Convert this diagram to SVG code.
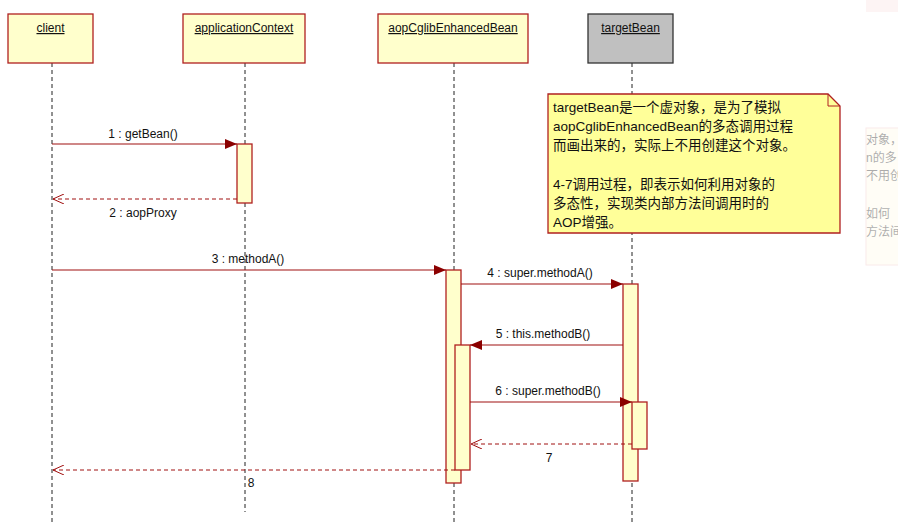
<svg xmlns="http://www.w3.org/2000/svg" width="898" height="531" viewBox="0 0 898 531">
<defs>
<style>
text{font-family:"Liberation Sans","Noto Sans CJK SC",sans-serif;font-size:12px;fill:#111}
.note text{font-size:13.5px}
.box{fill:#ffffcc;stroke:#b02020;stroke-width:1.3}
.life{stroke:#222;stroke-width:1;stroke-dasharray:4 3}
.act{fill:#ffffcc;stroke:#b02020;stroke-width:1.3}
.msg{stroke:#a01010;stroke-width:1.2;fill:none}
.ret{stroke:#a01010;stroke-width:1;fill:none;stroke-dasharray:4 3}
.u{text-decoration:underline}
</style>
<marker id="fill" markerWidth="12" markerHeight="10" refX="12" refY="5" orient="auto" markerUnits="userSpaceOnUse"><path d="M0,0 L12,5 L0,10 Z" fill="#8b0000"/></marker>
<marker id="open" markerWidth="12" markerHeight="10" refX="11" refY="5" orient="auto" markerUnits="userSpaceOnUse"><path d="M0,0 L11,5 L0,10" fill="none" stroke="#a01010"/></marker>
</defs>
<rect width="898" height="531" fill="#fff"/>
<g opacity="0.35">
<rect x="866" y="0" width="40" height="12" fill="#fbe0e0"/>
<rect x="866" y="128" width="40" height="137" fill="#fffbe6" stroke="#f3c6c6"/>
<text x="866" y="144" fill="#888">对象，</text>
<text x="866" y="162" fill="#888">n的多</text>
<text x="866" y="180" fill="#888">不用创</text>
<text x="866" y="218" fill="#888">如何</text>
<text x="866" y="236" fill="#888">方法间</text>
</g>
<g id="lifelines">
<line class="life" x1="52" y1="63" x2="52" y2="522"/>
<line class="life" x1="245" y1="63" x2="245" y2="512"/>
<line class="life" x1="454" y1="63" x2="454" y2="522"/>
<line class="life" x1="632" y1="63" x2="632" y2="522"/>
</g>
<g id="client"><rect class="box" x="8" y="14" width="85" height="49"/><text class="u" x="50.5" y="32" text-anchor="middle">client</text></g>
<g id="applicationContext"><rect class="box" x="183" y="14" width="122" height="49"/><text class="u" x="244" y="32" text-anchor="middle">applicationContext</text></g>
<g id="aopCglibEnhancedBean"><rect class="box" x="378" y="14" width="150" height="49"/><text class="u" x="453" y="32" text-anchor="middle">aopCglibEnhancedBean</text></g>
<g id="targetBean"><rect x="588" y="14" width="85" height="49" fill="#c0c0c0" stroke="#333" stroke-width="1.3"/><text class="u" x="630.5" y="32" text-anchor="middle">targetBean</text></g>
<g id="note" class="note">
<path d="M548,94 H828 L840,106 V233 H548 Z" fill="#ffff99" stroke="#b02020" stroke-width="1.3"/>
<path d="M828,94 V106 H840" fill="none" stroke="#b02020"/>
<text x="553" y="112">targetBean是一个虚对象，是为了模拟</text>
<text x="553" y="131">aopCglibEnhancedBean的多态调用过程</text>
<text x="553" y="150">而画出来的，实际上不用创建这个对象。</text>
<text x="553" y="189">4-7调用过程，即表示如何利用对象的</text>
<text x="553" y="208">多态性，实现类内部方法间调用时的</text>
<text x="553" y="227">AOP增强。</text>
</g>
<g id="activations">
<rect class="act" x="237" y="144" width="15" height="59"/>
<rect class="act" x="446" y="270" width="15" height="213"/>
<rect class="act" x="623" y="284" width="15" height="197"/>
<rect class="act" x="455" y="345" width="15" height="125"/>
<rect class="act" x="632" y="402" width="15" height="47"/>
</g>
<g id="connectors">
<line class="msg" x1="52" y1="144" x2="237" y2="144" marker-end="url(#fill)"/>
<line class="ret" x1="237" y1="199" x2="53" y2="199" marker-end="url(#open)"/>
<line class="msg" x1="52" y1="270" x2="446" y2="270" marker-end="url(#fill)"/>
<line class="msg" x1="461" y1="284" x2="623" y2="284" marker-end="url(#fill)"/>
<line class="msg" x1="623" y1="345" x2="470" y2="345" marker-end="url(#fill)"/>
<line class="msg" x1="470" y1="402" x2="632" y2="402" marker-end="url(#fill)"/>
<line class="ret" x1="632" y1="444" x2="471" y2="444" marker-end="url(#open)"/>
<line class="ret" x1="455" y1="470" x2="53" y2="470" marker-end="url(#open)"/>
</g>
<g id="labels">
<text x="143" y="138" text-anchor="middle">1 : getBean()</text>
<text x="143" y="217" text-anchor="middle">2 : aopProxy</text>
<text x="248" y="263" text-anchor="middle">3 : methodA()</text>
<text x="540" y="277" text-anchor="middle">4 : super.methodA()</text>
<text x="543" y="338" text-anchor="middle">5 : this.methodB()</text>
<text x="548" y="395" text-anchor="middle">6 : super.methodB()</text>
<text x="549" y="462" text-anchor="middle">7</text>
<text x="251" y="487" text-anchor="middle">8</text>
</g>
</svg>
